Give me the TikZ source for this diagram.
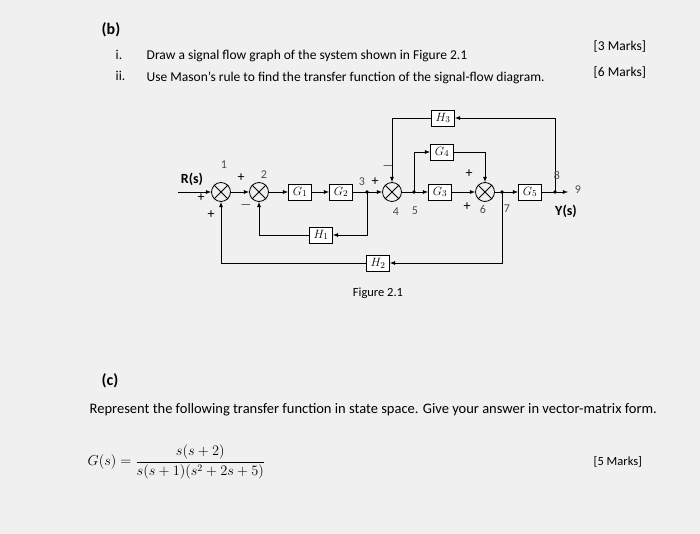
\documentclass[tikz,border=0pt]{standalone}
\usepackage{amsmath}
\usepackage{fontspec}
\setmainfont{Carlito}
\usetikzlibrary{arrows,positioning}

\tikzset{
  block/.style={draw,thick,fill=white,minimum width=23pt,minimum height=16pt,inner sep=0pt,font=\fontsize{12.5}{12}\selectfont\itshape},
  sumj/.style={draw,thick,circle,minimum size=19pt,inner sep=0pt},
  sgn/.style={font=\fontsize{14}{14}\selectfont},
  hand/.style={font=\fontsize{12}{12}\selectfont,text=black!70},
  page/.style={font=\fontsize{13.5}{15}\selectfont,anchor=west}
}

\begin{document}
\begin{tikzpicture}[x=1pt,y=-1pt,>=latex,thick]
    \fill[gray!12] (0,0) rectangle (700,534);
    \useasboundingbox (0,0) rectangle (700,534);

    % PAGE TEXT
    \node[page,font=\fontsize{16}{16}\selectfont\bfseries] (PART_B) at (98,30) {(b)};
    \node[page] (ITEM_I) at (112,55) {i.};
    \node[page] (TASK_I) at (143,56) {Draw a signal flow graph of the system shown in Figure 2.1};
    \node[page] (MARKS_I) at (590,47) {[3 Marks]};
    \node[page] (ITEM_II) at (112,76) {ii.};
    \node[page] (TASK_II) at (143,78) {Use Mason's rule to find the transfer function of the signal-flow diagram.};
    \node[page] (MARKS_II) at (590,73) {[6 Marks]};

    % FIRST ROW
    \node[sumj] (SUM_A) at (221,192) {};
    \node[sumj] (SUM_B) at (259,192) {};
    \node[block] (G_ONE) at (300,192) {$G_1$};
    \node[block] (G_TWO) at (341,192) {$G_2$};
    \coordinate (TAP_C) at (367,192);
    \node[sumj] (SUM_D) at (392,192) {};
    \coordinate (TAP_E) at (414,192);
    \node[block] (G_THREE) at (440,192) {$G_3$};
    \node[sumj] (SUM_F) at (485,192) {};
    \coordinate (TAP_G) at (502,192);
    \node[block] (G_FIVE) at (530,192) {$G_5$};
    \coordinate (TAP_H) at (555,192);
    \coordinate (OUT) at (568,192);
    \coordinate (IN) at (178,192);

    % UPPER PATHS
    \node[block] (G_FOUR) at (442,152) {$G_4$};
    \node[block] (H_THREE) at (443,118) {$H_3$};

    % LOWER PATHS
    \node[block] (H_ONE) at (321,235) {$H_1$};
    \node[block] (H_TWO) at (378,263) {$H_2$};

    \foreach \s in {SUM_A,SUM_B,SUM_D,SUM_F}
      \draw (\s.north west) -- (\s.south east) (\s.north east) -- (\s.south west);
    \foreach \t in {TAP_C,TAP_E,TAP_G,TAP_H}
      \fill (\t) circle (1.8pt);

    % LINES
    \draw[->] (IN) -- (SUM_A);
    \draw[->] (SUM_A) -- (SUM_B);
    \draw[->] (SUM_B) -- (G_ONE);
    \draw[->] (G_ONE) -- (G_TWO);
    \draw[->] (G_TWO) -- (SUM_D);
    \draw[->] (SUM_D) -- (G_THREE);
    \draw[->] (G_THREE) -- (SUM_F);
    \draw[->] (SUM_F) -- (G_FIVE);
    \draw[->] (G_FIVE) -- (OUT);
    \draw[->] (TAP_C) |- (H_ONE);
    \draw[->] (H_ONE) -| (SUM_B);
    \draw[->] (TAP_E) |- (G_FOUR);
    \draw[->] (G_FOUR) -| (SUM_F);
    \draw[->] (TAP_G) |- (H_TWO);
    \draw[->] (H_TWO) -| (SUM_A);
    \draw[->] (TAP_H) |- (H_THREE);
    \draw[->] (H_THREE) -| (SUM_D);

    % LABELS
    \node[font=\fontsize{14}{14}\selectfont\bfseries] (R_IN) at (192,179) {R(s)};
    \node[font=\fontsize{14}{14}\selectfont\bfseries] (Y_OUT) at (566,211) {Y(s)};
    \node[sgn] at (241,178) {+};
    \node[sgn] at (201,198) {+};
    \node[sgn] at (211,215) {+};
    \node[sgn] at (246,205) {$-$};
    \node[sgn] at (375,182) {+};
    \node[sgn] at (388,166) {$-$};
    \node[sgn] at (469,174) {+};
    \node[sgn] at (467,207) {+};
    \node[hand] at (224,165) {1};
    \node[hand] at (264,175) {2};
    \node[hand] at (362,182) {3};
    \node[hand] at (396,212) {4};
    \node[hand] at (415,211) {5};
    \node[hand] at (483,209) {6};
    \node[hand] at (507,209) {7};
    \node[hand] at (557,175) {8};
    \node[hand] at (578,190) {9};
    \node[font=\fontsize{12.5}{12}\selectfont] (FIG_CAP) at (378,293) {Figure 2.1};

    % PART C
    \node[page,font=\fontsize{16}{16}\selectfont\bfseries] (PART_C) at (98,381) {(c)};
    \node[page,font=\fontsize{14.5}{15}\selectfont] (TASK_C) at (86,410) {Represent the following transfer function in state space. Give your answer in vector-matrix form.};
    \node[anchor=west,font=\fontsize{14.5}{16}\selectfont] (TF) at (84,462)
      {$G(s)=\dfrac{s(s+2)}{s(s+1)(s^2+2s+5)}$};
    \node[page,font=\fontsize{12.5}{12}\selectfont] (MARKS_C) at (590,462) {[5 Marks]};
\end{tikzpicture}
\end{document}
